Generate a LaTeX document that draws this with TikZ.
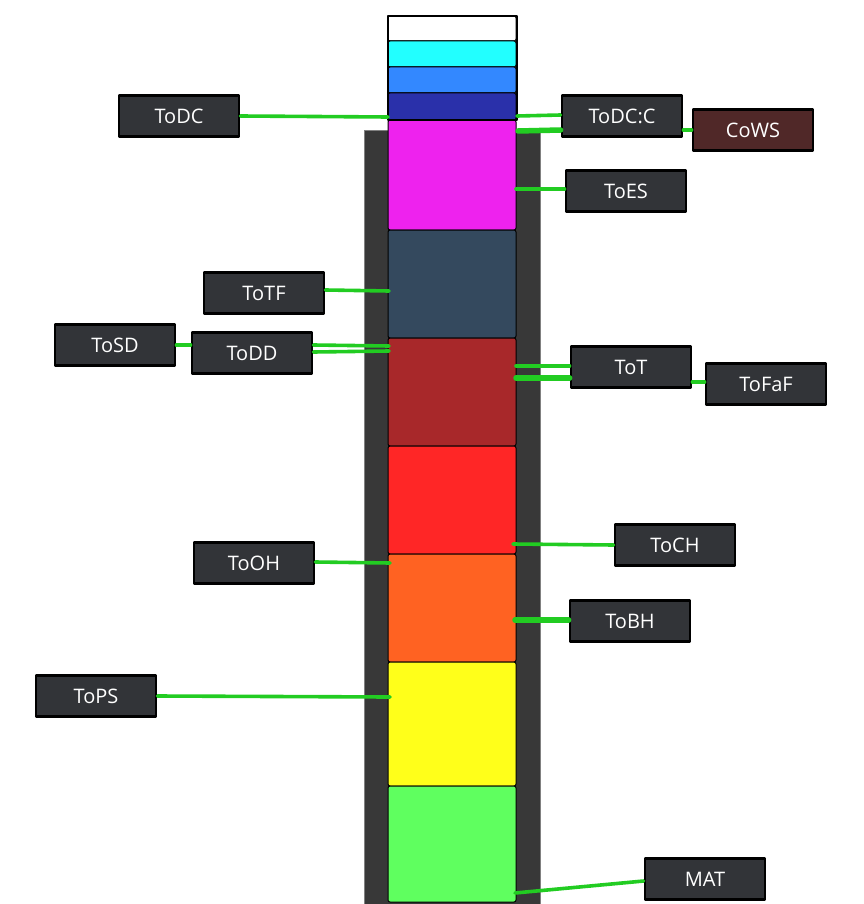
\documentclass[tikz,border=0pt]{standalone}
\usepackage{fontspec}
\setmainfont{Open Sans}
\definecolor{boxgray}{HTML}{323438}
\definecolor{cowsred}{HTML}{502828}
\definecolor{linkgreen}{HTML}{22CC22}
\definecolor{frame}{HTML}{383838}
\definecolor{cyanblk}{HTML}{22FFFF}
\definecolor{skyblk}{HTML}{3388FF}
\definecolor{navyblk}{HTML}{2A30AA}
\definecolor{magblk}{HTML}{EE22EE}
\definecolor{slateblk}{HTML}{34495E}
\definecolor{wineblk}{HTML}{A8282A}
\definecolor{redblk}{HTML}{FF2626}
\definecolor{orangeblk}{HTML}{FF6222}
\definecolor{yellowblk}{HTML}{FFFF1A}
\definecolor{greenblk}{HTML}{5FFF5F}
\tikzset{
	tag/.style={draw=black,line width=2.8pt,fill=boxgray,text=white,minimum width=120pt,minimum height=41pt,inner sep=0pt,font=\fontsize{20}{20}\selectfont},
	link/.style={draw=linkgreen,line width=3.6pt},
	fatlink/.style={draw=linkgreen,line width=5.5pt}
}

\begin{document}
\begin{tikzpicture}[line cap=round,line join=round,x=1pt,y=-1pt]
		\useasboundingbox (0,0) rectangle (863,904);
		% column
		\draw [fill=frame,draw=gray,line width=0.8pt] (364,130) rectangle (540,904);
		\foreach \ytop/\ybot/\col in {16/41/white,41/67/cyanblk,67/93/skyblk,93/120/navyblk,120/230/magblk,230/338/slateblk,338/446/wineblk,446/554/redblk,554/662/orangeblk,662/786/yellowblk,786/902/greenblk}
			\draw [fill=\col,line width=1pt,rounded corners=2pt] (388,\ytop) rectangle (516,\ybot);
		\draw [line width=2pt] (388,16) rectangle (517,120);
		% ends on the column
		\coordinate (dcL) at (388,117);
		\coordinate (dccA) at (517,116);
		\coordinate (dccB) at (518,131);
		\coordinate (esR) at (516,189);
		\coordinate (tfL) at (389,291);
		\coordinate (ddA) at (389,346);
		\coordinate (ddB) at (389,351);
		\coordinate (tA) at (516,366);
		\coordinate (tB) at (516,378);
		\coordinate (chR) at (513,544);
		\coordinate (ohL) at (390,563);
		\coordinate (bhR) at (515,620);
		\coordinate (psL) at (390,697);
		\coordinate (matR) at (515,893);
		% labels
		\node [tag] (todc) at (179,116) {ToDC};
		\node [tag] (todcc) at (622,116) {ToDC:C};
		\node [tag,fill=cowsred] (cows) at (753,130) {CoWS};
		\node [tag] (toes) at (626,191) {ToES};
		\node [tag] (totf) at (264,293) {ToTF};
		\node [tag] (tosd) at (115,345) {ToSD};
		\node [tag] (todd) at (252,353) {ToDD};
		\node [tag] (tot) at (631,367) {ToT};
		\node [tag] (tofaf) at (766,384) {ToFaF};
		\node [tag] (toch) at (675,545) {ToCH};
		\node [tag] (tooh) at (254,563) {ToOH};
		\node [tag] (tobh) at (630,621) {ToBH};
		\node [tag] (tops) at (96,696) {ToPS};
		\node [tag] (mat) at (705,879) {MAT};
		% links
		\draw [link] (todc.east) -- (dcL);
		\draw [link] ([yshift=1pt]todcc.west) -- (dccA);
		\draw [fatlink] ([yshift=-14pt]todcc.west) -- (dccB);
		\draw [link] ([yshift=-14pt]todcc.east) -- (cows.west);
		\draw [link] ([yshift=2pt]toes.west) -- (esR);
		\draw [link] ([yshift=3pt]totf.east) -- (tfL);
		\draw [link] (tosd.east) -- ([yshift=8pt]todd.west);
		\draw [link] ([yshift=8pt]todd.east) -- (ddA);
		\draw [link] ([yshift=1pt]todd.east) -- (ddB);
		\draw [link] ([yshift=1pt]tot.west) -- (tA);
		\draw [fatlink] ([yshift=-11pt]tot.west) -- (tB);
		\draw [link] ([yshift=-15pt]tot.east) -- ([yshift=2pt]tofaf.west);
		\draw [link] (toch.west) -- (chR);
		\draw [link] ([yshift=1pt]tooh.east) -- (ohL);
		\draw [fatlink] ([yshift=1pt]tobh.west) -- (bhR);
		\draw [link] (tops.east) -- (psL);
		\draw [link] ([yshift=-2pt]mat.west) -- (matR);
	\end{tikzpicture}
\end{document}
